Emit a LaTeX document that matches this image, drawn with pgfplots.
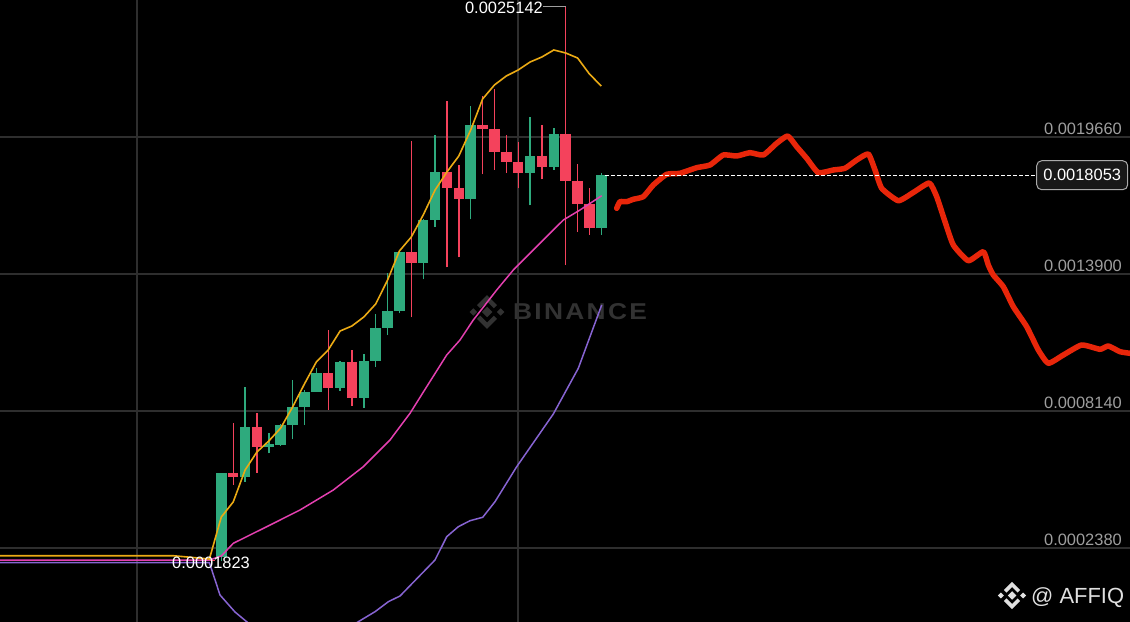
\documentclass[border=0pt]{standalone}
\usepackage{fontspec}
\setmainfont{Liberation Sans}
\usepackage{pgfplots}
\pgfplotsset{compat=1.18}
\definecolor{cgreen}{RGB}{46,170,125}
\definecolor{cred}{RGB}{244,66,92}
\definecolor{cyellow}{RGB}{235,170,20}
\definecolor{cpink}{RGB}{228,64,176}
\definecolor{cpurple}{RGB}{135,100,210}
\definecolor{cline}{RGB}{232,38,10}
\definecolor{cgrid}{RGB}{46,46,46}
\definecolor{clabel}{RGB}{158,158,158}
\definecolor{cwm}{RGB}{50,50,50}
\definecolor{cboxd}{RGB}{170,170,170}
\definecolor{cboxf}{RGB}{24,24,24}
\newcommand{\bnblogo}[4]{%
\begin{scope}[shift={(#1,#2)}, x=#3bp, y=#3bp]
\fill[#4] (0,5)--(5,0)--(0,-5)--(-5,0)--cycle;
\fill[#4] (-13,3.5)--(-9.5,0)--(-13,-3.5)--(-16.5,0)--cycle;
\fill[#4] (13,3.5)--(16.5,0)--(13,-3.5)--(9.5,0)--cycle;
\fill[#4] (-9.5,6.5)--(0,16)--(9.5,6.5)--(6.5,3.5)--(0,10)--(-6.5,3.5)--cycle;
\fill[#4] (-9.5,-6.5)--(0,-16)--(9.5,-6.5)--(6.5,-3.5)--(0,-10)--(-6.5,-3.5)--cycle;
\end{scope}}
\newcommand{\lbl}{\fontsize{16.5}{18}\selectfont}
\begin{document}
\begin{tikzpicture}
\fill[black] (0,0) rectangle (1130bp,622bp);
\node[text=cwm, font=\bfseries\fontsize{23}{23}\selectfont, anchor=center, inner sep=0pt] at (580bp,310bp) {\scalebox{1.15}[1]{B\kern2bp I\kern2bp N\kern2bp A\kern2bp N\kern2bp C\kern2bp E}};
\bnblogo{487bp}{310bp}{1.05}{cwm}
\begin{axis}[at={(0,0)}, anchor=south west, width=1130bp, height=622bp, scale only axis,
  xmin=0, xmax=1130, ymin=-0.0000731, ymax=0.002542,
  scaled x ticks=false, scaled y ticks=false,
  axis line style={draw=none}, major tick style={draw=none},
  xtick={137,518}, xticklabels={},
  ytick={0.0002380,0.0008140,0.0013900,0.0019660},
  yticklabels={0.0002380,0.0008140,0.0013900,0.0019660},
  grid=major, major grid style={cgrid, line width=1.2bp},
  yticklabel pos=right,
  yticklabel style={anchor=south east, inner sep=0pt, xshift=-8bp, yshift=2bp, text=clabel, font=\lbl},
  unbounded coords=jump, clip=true]
% flat candles before the move
\addplot[cred, line width=10.5bp, line cap=butt] coordinates {
(7.6,0.0001896) (7.6,0.0001854) (7.6,nan)
(19.4,0.0001896) (19.4,0.0001854) (19.4,nan)
(43.2,0.0001896) (43.2,0.0001854) (43.2,nan)
(55.1,0.0001896) (55.1,0.0001854) (55.1,nan)
(66.9,0.0001896) (66.9,0.0001854) (66.9,nan)
(78.8,0.0001896) (78.8,0.0001854) (78.8,nan)
(102.6,0.0001896) (102.6,0.0001854) (102.6,nan)
(114.4,0.0001896) (114.4,0.0001854) (114.4,nan)
(126.3,0.0001896) (126.3,0.0001854) (126.3,nan)
(138.2,0.0001896) (138.2,0.0001854) (138.2,nan)
(161.9,0.0001896) (161.9,0.0001854) (161.9,nan)
(173.8,0.0001896) (173.8,0.0001854) (173.8,nan)
(185.7,0.0001896) (185.7,0.0001854) (185.7,nan)
(197.6,0.0001896) (197.6,0.0001854) (197.6,nan)
(209.4,0.0001896) (209.4,0.0001854) (209.4,nan)
};
\addplot[cgreen, line width=10.5bp, line cap=butt] coordinates {
(31.3,0.0001854) (31.3,0.0001896) (31.3,nan)
(90.7,0.0001854) (90.7,0.0001896) (90.7,nan)
(150.1,0.0001854) (150.1,0.0001896) (150.1,nan)
};
% green wicks
\addplot[cgreen, line width=1.4bp] coordinates {
(221.3,0.0001823) (221.3,0.0005521) (221.3,nan)
(245.1,0.0005167) (245.1,0.0009136) (245.1,nan)
(268.8,0.0006362) (268.8,0.0007202) (268.8,nan)
(280.7,0.0006668) (280.7,0.0007593) (280.7,nan)
(292.6,0.0006950) (292.6,0.0009443) (292.6,nan)
(304.4,0.0007551) (304.4,0.0009023) (304.4,nan)
(316.3,0.0008939) (316.3,0.0009935) (316.3,nan)
(340.1,0.0008981) (340.1,0.0010242) (340.1,nan)
(363.8,0.0008279) (363.8,0.0010524) (363.8,nan)
(375.7,0.0010003) (375.7,0.0012206) (375.7,nan)
(387.6,0.0011335) (387.6,0.0013929) (387.6,nan)
(399.4,0.0012248) (399.4,0.0014867) (399.4,nan)
(423.2,0.0013677) (423.2,0.0016212) (423.2,nan)
(435.1,0.0015889) (435.1,0.0019744) (435.1,nan)
(470.7,0.0016200) (470.7,0.0020963) (470.7,nan)
(530.1,0.0016788) (530.1,0.0020488) (530.1,nan)
(553.8,0.0018273) (553.8,0.0020051) (553.8,nan)
(601.3,0.0015540) (601.3,0.0018134) (601.3,nan)
};
% green bodies
\addplot[cgreen, line width=10.5bp, line cap=butt] coordinates {
(221.3,0.0002002) (221.3,0.0005521) (221.3,nan)
(245.1,0.0005378) (245.1,0.0007480) (245.1,nan)
(268.8,0.0006639) (268.8,0.0006740) (268.8,nan)
(280.7,0.0006710) (280.7,0.0007551) (280.7,nan)
(292.6,0.0007551) (292.6,0.0008321) (292.6,nan)
(304.4,0.0008321) (304.4,0.0008951) (304.4,nan)
(316.3,0.0008951) (316.3,0.0009725) (316.3,nan)
(340.1,0.0009120) (340.1,0.0010188) (340.1,nan)
(363.8,0.0008699) (363.8,0.0010255) (363.8,nan)
(375.7,0.0010255) (375.7,0.0011617) (375.7,nan)
(387.6,0.0011642) (387.6,0.0012344) (387.6,nan)
(399.4,0.0012344) (399.4,0.0014825) (399.4,nan)
(423.2,0.0014375) (423.2,0.0016170) (423.2,nan)
(435.1,0.0016170) (435.1,0.0018201) (435.1,nan)
(470.7,0.0017053) (470.7,0.0020165) (470.7,nan)
(530.1,0.0018159) (530.1,0.0018874) (530.1,nan)
(553.8,0.0018411) (553.8,0.0019786) (553.8,nan)
(601.3,0.0015821) (601.3,0.0018053) (601.3,nan)
};
% red wicks
\addplot[cred, line width=1.4bp] coordinates {
(233.2,0.0005029) (233.2,0.0007623) (233.2,nan)
(256.9,0.0005546) (256.9,0.0008068) (256.9,nan)
(328.2,0.0008182) (328.2,0.0011546) (328.2,nan)
(351.9,0.0008350) (351.9,0.0010705) (351.9,nan)
(411.3,0.0012079) (411.3,0.0019504) (411.3,nan)
(446.9,0.0014182) (446.9,0.0021174) (446.9,nan)
(458.8,0.0014602) (458.8,0.0018483) (458.8,nan)
(482.6,0.0018092) (482.6,0.0021384) (482.6,nan)
(494.4,0.0018273) (494.4,0.0021666) (494.4,nan)
(506.3,0.0018159) (506.3,0.0019744) (506.3,nan)
(518.2,0.0017503) (518.2,0.0019437) (518.2,nan)
(541.9,0.0017882) (541.9,0.0020165) (541.9,nan)
(565.7,0.0014278) (565.7,0.0025142) (565.7,nan)
(577.6,0.0015678) (577.6,0.0018512) (577.6,nan)
(589.4,0.0015540) (589.4,0.0017503) (589.4,nan)
};
% red bodies
\addplot[cred, line width=10.5bp, line cap=butt] coordinates {
(233.2,0.0005521) (233.2,0.0005378) (233.2,nan)
(256.9,0.0007480) (256.9,0.0006639) (256.9,nan)
(328.2,0.0009725) (328.2,0.0009120) (328.2,nan)
(351.9,0.0010188) (351.9,0.0008699) (351.9,nan)
(411.3,0.0014812) (411.3,0.0014375) (411.3,nan)
(446.9,0.0018201) (446.9,0.0017503) (446.9,nan)
(458.8,0.0017503) (458.8,0.0017053) (458.8,nan)
(482.6,0.0020165) (482.6,0.0019996) (482.6,nan)
(494.4,0.0019996) (494.4,0.0019042) (494.4,nan)
(506.3,0.0019042) (506.3,0.0018622) (506.3,nan)
(518.2,0.0018622) (518.2,0.0018159) (518.2,nan)
(541.9,0.0018874) (541.9,0.0018411) (541.9,nan)
(565.7,0.0019786) (565.7,0.0017810) (565.7,nan)
(577.6,0.0017810) (577.6,0.0016843) (577.6,nan)
(589.4,0.0016843) (589.4,0.0015821) (589.4,nan)
};
% MA(99)
\addplot[cpurple, line width=1.5bp] coordinates {
(0,0.0001762) (209.4,0.0001762) (220,0.0000404) (235,-0.0000311) (247,-0.0000731)
(270,-0.0001488) (300,-0.0001909) (330,-0.0001488) (358.3,-0.0000719)
(375,-0.0000298) (388.3,0.0000122) (400,0.0000362) (435,0.0001875)
(446.7,0.0002855) (458.3,0.0003275) (470,0.0003528) (482.7,0.0003671)
(495,0.0004327) (516.7,0.0005798) (553.3,0.0008014) (578.3,0.0009935) (601.7,0.0012597)
};
% MA(25)
\addplot[cpink, line width=1.5bp] coordinates {
(0,0.0001875) (209.4,0.0001875) (221.3,0.0002044) (233.3,0.0002578) (266.7,0.0003275)
(300,0.0003978) (333.3,0.0004818) (363.3,0.0005798) (390,0.0006921) (410,0.0008043)
(426.7,0.0009162) (446.7,0.0010494) (460,0.0011125) (473.3,0.0011966) (496.7,0.0013227)
(513.3,0.0014068) (540,0.0015191) (563.3,0.0016170) (580,0.0016591) (601.7,0.0017192)
};
% MA(7)
\addplot[cyellow, line width=1.6bp] coordinates {
(0,0.0002056) (173,0.0002056) (209.4,0.0001917) (221.3,0.0003683) (233.2,0.0004314)
(245.1,0.0005659) (256.9,0.0006416) (268.8,0.0006879) (280.7,0.0007425) (292.6,0.0008308)
(304.4,0.0009275) (316.3,0.0010200) (328.2,0.0010705) (340.1,0.0011503) (351.9,0.0011714)
(363.8,0.0012092) (375.7,0.0012639) (387.6,0.0013648) (399.4,0.0014867) (411.3,0.0015456)
(423.2,0.0016381) (435.1,0.0017432) (446.9,0.0018188) (458.8,0.0018861) (470.7,0.0019954)
(482.6,0.0021258) (494.4,0.0021846) (506.3,0.0022225) (518.2,0.0022477) (530.1,0.0022813)
(541.9,0.0023024) (553.8,0.0023318) (565.7,0.0023192) (577.6,0.0022981) (589.4,0.0022309)
(601.3,0.0021804)
};
% hand-drawn projection
\addplot[cline, line width=5.5bp, line join=round, line cap=round, smooth, tension=0.3] coordinates {
(616.7,0.0016662) (620,0.0016940) (626.7,0.0016940) (633.3,0.0017041) (643.3,0.0017150)
(653.3,0.0017642) (666.7,0.0018092) (680,0.0018134) (696.7,0.0018369) (710,0.0018483)
(723.3,0.0018903) (736.7,0.0018861) (750,0.0019000) (763.3,0.0018903) (776.7,0.0019395)
(787.7,0.0019702) (796.7,0.0019252) (806.7,0.0018764) (818.3,0.0018159) (833.3,0.0018273)
(845,0.0018344) (856.7,0.0018693) (868.3,0.0018945) (875,0.0018273) (881.7,0.0017503)
(898.3,0.0016982) (913.3,0.0017327) (929.3,0.0017726) (936.7,0.0017150) (945,0.0016099)
(953.3,0.0015119) (968.3,0.0014459) (983.3,0.0014838) (988.3,0.0014278) (993.3,0.0013858)
(1003.3,0.0013366) (1013.3,0.0012525) (1026.7,0.0011684) (1038.3,0.0010705) (1048.3,0.0010145)
(1063.3,0.0010494) (1081.7,0.0010915) (1100,0.0010734) (1108.3,0.0010873) (1120,0.0010633)
(1130,0.0010566)
};
% current price line and box
\draw[white, line width=1bp, dash pattern=on 3.5bp off 2.5bp] (axis cs:605,0.0018053) -- (axis cs:1036.7,0.0018053);
\node[draw=cboxd, fill=cboxf, rounded corners=5bp, line width=1bp, minimum width=91bp, minimum height=29bp, inner sep=0pt, text=white, font=\lbl] at (axis cs:1082.2,0.0018053) {0.0018053};
% high / low labels
\draw[clabel, line width=1bp] (axis cs:543,0.0025126) -- (axis cs:566,0.0025126);
\node[anchor=east, inner sep=0pt, text=white, font=\lbl] at (axis cs:543,0.0025084) {0.0025142};
\node[anchor=center, inner sep=0pt, text=white, font=\lbl] at (axis cs:211,0.0001740) {0.0001823};
\end{axis}
\bnblogo{1012bp}{26.5bp}{0.85}{white!88!black}
\node[anchor=base west, inner sep=0pt, text=white!88!black, font=\fontsize{22}{24}\selectfont] at (1031bp,18.7bp) {@ AFFIQ};
\pgfresetboundingbox
\path[use as bounding box] (0,0) rectangle (1130bp,622bp);
\end{tikzpicture}
\end{document}
